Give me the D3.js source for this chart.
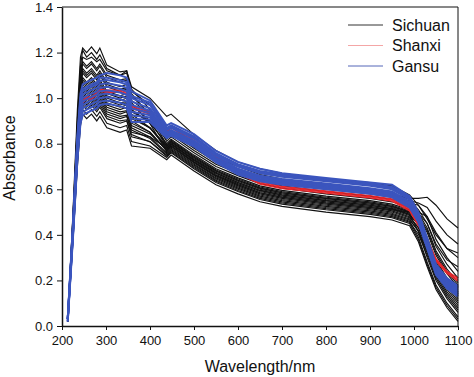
<!DOCTYPE html>
<html>
<head>
<meta charset="utf-8">
<script src="https://cdn.jsdelivr.net/npm/d3@7"></script>
<style>
body{margin:0;background:#fff;}
svg{display:block;font-family:"Liberation Sans",Arial,sans-serif;}
</style>
</head>
<body>
<div id="chart"></div>
<script>
(function(){

const width = 474;
const height = 377;

// wavelength grid shared by every spectrum (nm)
const wavelengths = [213,225,235,242,247,256,267,279,286,302,332,347,358,400,438,448,500,550,600,650,700,800,900,950,990,1010,1030,1050,1075,1100];

// absorbance
const sichuan = [
[0.02,0.50,0.95,1.18,1.22,1.20,1.225,1.195,1.22,1.145,1.115,1.12,1.05,1.00,0.92,0.93,0.84,0.77,0.72,0.69,0.67,0.645,0.63,0.615,0.575,0.53,0.47,0.40,0.34,0.32],
[0.03,0.49,0.91,1.14,1.21,1.18,1.20,1.17,1.19,1.13,1.10,1.12,1.03,0.97,0.86,0.88,0.80,0.74,0.70,0.665,0.645,0.62,0.60,0.585,0.555,0.51,0.45,0.36,0.29,0.26],
[0.03,0.48,0.89,1.11,1.18,1.17,1.18,1.16,1.17,1.12,1.10,1.11,1.04,0.95,0.83,0.85,0.78,0.72,0.68,0.645,0.625,0.60,0.58,0.565,0.54,0.53,0.48,0.38,0.30,0.24],
[0.02,0.47,0.87,1.09,1.15,1.13,1.15,1.12,1.14,1.09,1.07,1.08,1.01,0.93,0.81,0.83,0.76,0.70,0.66,0.625,0.605,0.58,0.56,0.545,0.52,0.495,0.43,0.33,0.25,0.19],
[0.03,0.46,0.85,1.07,1.13,1.11,1.13,1.10,1.12,1.07,1.05,1.06,0.99,0.93,0.84,0.86,0.79,0.73,0.69,0.655,0.635,0.61,0.59,0.575,0.56,0.56,0.565,0.53,0.47,0.43],
[0.04,0.45,0.84,1.05,1.11,1.09,1.11,1.08,1.10,1.05,1.03,1.04,0.97,0.90,0.79,0.81,0.74,0.68,0.64,0.605,0.585,0.56,0.54,0.525,0.50,0.46,0.38,0.28,0.20,0.14],
[0.03,0.44,0.82,1.03,1.09,1.07,1.09,1.06,1.08,1.03,1.01,1.02,0.95,0.89,0.80,0.82,0.75,0.69,0.65,0.615,0.595,0.57,0.55,0.535,0.51,0.48,0.41,0.31,0.23,0.17],
[0.03,0.43,0.81,1.01,1.07,1.05,1.07,1.04,1.06,1.01,0.99,1.00,0.93,0.87,0.78,0.80,0.73,0.67,0.63,0.595,0.575,0.55,0.53,0.515,0.49,0.445,0.36,0.26,0.18,0.12],
[0.03,0.43,0.79,0.99,1.05,1.03,1.05,1.02,1.04,0.99,0.97,0.98,0.91,0.87,0.79,0.81,0.74,0.68,0.64,0.605,0.585,0.56,0.54,0.525,0.50,0.495,0.45,0.35,0.27,0.21],
[0.02,0.42,0.78,0.97,1.03,1.01,1.03,1.00,1.02,0.97,0.95,0.96,0.89,0.85,0.77,0.79,0.72,0.66,0.62,0.585,0.565,0.54,0.52,0.505,0.48,0.43,0.34,0.24,0.16,0.10],
[0.03,0.41,0.76,0.95,1.01,0.99,1.01,0.98,1.00,0.95,0.93,0.94,0.87,0.83,0.76,0.78,0.71,0.65,0.61,0.575,0.555,0.53,0.51,0.495,0.47,0.415,0.32,0.22,0.14,0.08],
[0.02,0.40,0.75,0.93,0.99,0.97,0.99,0.96,0.98,0.93,0.91,0.92,0.85,0.83,0.78,0.80,0.73,0.67,0.63,0.595,0.575,0.55,0.53,0.515,0.49,0.415,0.30,0.20,0.12,0.06],
[0.03,0.39,0.73,0.91,0.97,0.95,0.97,0.94,0.96,0.91,0.89,0.90,0.83,0.81,0.75,0.77,0.70,0.64,0.60,0.565,0.545,0.52,0.50,0.485,0.46,0.39,0.28,0.18,0.10,0.04],
[0.02,0.39,0.72,0.90,0.95,0.93,0.95,0.92,0.94,0.89,0.87,0.88,0.81,0.79,0.74,0.76,0.69,0.63,0.59,0.555,0.535,0.51,0.49,0.475,0.45,0.38,0.27,0.17,0.09,0.03],
[0.02,0.38,0.70,0.88,0.93,0.91,0.93,0.90,0.92,0.87,0.85,0.86,0.79,0.78,0.73,0.75,0.68,0.62,0.58,0.545,0.525,0.50,0.48,0.465,0.44,0.37,0.26,0.16,0.08,0.02],
[0.03,0.44,0.82,1.02,1.08,1.06,1.08,1.05,1.07,1.02,1.00,1.01,0.94,0.90,0.82,0.84,0.77,0.71,0.67,0.635,0.615,0.59,0.57,0.555,0.55,0.54,0.52,0.46,0.40,0.36],
[0.03,0.42,0.79,0.98,1.04,1.02,1.04,1.01,1.03,0.98,0.96,0.97,0.90,0.85,0.77,0.79,0.72,0.66,0.62,0.585,0.565,0.54,0.52,0.51,0.50,0.50,0.48,0.41,0.34,0.30],
[0.03,0.43,0.80,1.00,1.06,1.04,1.06,1.03,1.05,1.00,0.98,0.985,0.92,0.868,0.785,0.805,0.735,0.675,0.635,0.60,0.58,0.555,0.535,0.52,0.495,0.463,0.39,0.29,0.21,0.15],
[0.02,0.414,0.77,0.962,1.02,1.00,1.02,0.99,1.01,0.96,0.94,0.945,0.88,0.843,0.775,0.795,0.725,0.665,0.625,0.59,0.57,0.545,0.525,0.51,0.485,0.448,0.37,0.27,0.19,0.13],
[0.03,0.454,0.845,1.057,1.12,1.10,1.12,1.09,1.11,1.06,1.04,1.045,0.98,0.888,0.765,0.785,0.715,0.655,0.615,0.58,0.56,0.535,0.515,0.50,0.475,0.433,0.35,0.25,0.17,0.11],
[0.03,0.406,0.755,0.943,1.00,0.98,1.00,0.97,0.99,0.94,0.92,0.925,0.86,0.823,0.755,0.775,0.705,0.645,0.605,0.57,0.55,0.525,0.505,0.49,0.465,0.418,0.33,0.23,0.15,0.09],
[0.03,0.47,0.875,1.095,1.16,1.14,1.16,1.13,1.15,1.10,1.08,1.085,1.02,0.923,0.795,0.815,0.745,0.685,0.645,0.61,0.59,0.565,0.545,0.53,0.505,0.483,0.42,0.32,0.24,0.18],
[0.02,0.398,0.74,0.924,0.98,0.96,0.98,0.95,0.97,0.92,0.90,0.905,0.84,0.808,0.745,0.765,0.695,0.635,0.595,0.56,0.54,0.515,0.495,0.48,0.455,0.403,0.31,0.21,0.13,0.07]
];

const gansu = [
[0.03,0.45,0.83,1.02,1.06,1.07,1.08,1.09,1.10,1.11,1.10,1.09,1.03,0.99,0.88,0.89,0.842,0.768,0.72,0.69,0.67,0.65,0.63,0.62,0.57,0.50,0.385,0.27,0.21,0.175],
[0.03,0.44,0.82,1.00,1.04,1.05,1.06,1.07,1.09,1.09,1.08,1.07,1.01,0.98,0.87,0.88,0.832,0.758,0.71,0.68,0.665,0.645,0.625,0.61,0.565,0.495,0.38,0.265,0.205,0.17],
[0.02,0.44,0.81,0.99,1.03,1.04,1.05,1.06,1.075,1.08,1.07,1.06,1.00,0.97,0.865,0.875,0.827,0.758,0.705,0.675,0.66,0.64,0.62,0.605,0.56,0.495,0.375,0.26,0.20,0.165],
[0.03,0.43,0.80,0.97,1.015,1.025,1.035,1.045,1.06,1.065,1.055,1.045,0.985,0.955,0.86,0.87,0.822,0.753,0.70,0.67,0.655,0.635,0.615,0.60,0.555,0.485,0.37,0.255,0.195,0.16],
[0.03,0.42,0.79,0.96,1.00,1.01,1.02,1.03,1.045,1.05,1.04,1.03,0.97,0.945,0.85,0.86,0.812,0.748,0.69,0.66,0.645,0.625,0.605,0.59,0.545,0.48,0.365,0.25,0.19,0.155],
[0.03,0.42,0.775,0.945,0.985,0.995,1.005,1.015,1.03,1.035,1.025,1.015,0.955,0.935,0.845,0.855,0.807,0.738,0.685,0.655,0.64,0.62,0.60,0.585,0.54,0.475,0.36,0.245,0.185,0.15],
[0.02,0.41,0.765,0.93,0.97,0.98,0.99,1.00,1.015,1.02,1.01,1.00,0.94,0.925,0.84,0.85,0.802,0.733,0.68,0.65,0.635,0.615,0.595,0.58,0.535,0.47,0.355,0.24,0.18,0.145],
[0.03,0.405,0.755,0.915,0.955,0.965,0.975,0.985,1.00,1.005,0.995,0.985,0.925,0.915,0.835,0.845,0.797,0.728,0.675,0.645,0.63,0.61,0.59,0.575,0.53,0.465,0.35,0.235,0.175,0.14],
[0.03,0.40,0.74,0.90,0.94,0.95,0.96,0.97,0.985,0.99,0.98,0.97,0.91,0.905,0.83,0.84,0.792,0.723,0.67,0.64,0.625,0.605,0.585,0.57,0.525,0.46,0.345,0.23,0.17,0.135],
[0.02,0.39,0.73,0.89,0.925,0.935,0.945,0.955,0.97,0.975,0.965,0.955,0.895,0.895,0.825,0.835,0.787,0.718,0.665,0.635,0.62,0.60,0.58,0.565,0.52,0.455,0.34,0.225,0.165,0.13]
];

const shanxi = [
[0.03,0.43,0.80,0.965,0.99,1.005,1.005,1.025,1.04,1.035,1.035,1.025,0.965,0.94,0.86,0.88,0.815,0.745,0.68,0.633,0.613,0.593,0.572,0.558,0.515,0.45,0.38,0.295,0.24,0.21],
[0.03,0.42,0.79,0.96,0.985,1.00,1.00,1.02,1.035,1.03,1.03,1.02,0.96,0.935,0.855,0.875,0.81,0.74,0.675,0.628,0.608,0.588,0.567,0.553,0.51,0.445,0.375,0.29,0.235,0.203],
[0.03,0.41,0.78,0.955,0.98,0.995,0.995,1.015,1.03,1.025,1.025,1.015,0.955,0.93,0.85,0.87,0.805,0.735,0.67,0.623,0.603,0.583,0.562,0.548,0.505,0.44,0.37,0.285,0.23,0.196]
];

const xTicks = [200,300,400,500,600,700,800,900,1000,1100];
const yTicks = [0.0,0.2,0.4,0.6,0.8,1.0,1.2,1.4];
const legendNames = ["Sichuan","Shanxi","Gansu"];
const legendColors = ["#333333","#f4a6a6","#5566b8"];

const svg = d3.select("#chart")
.append("svg")
.attr("width",width)
.attr("height",height);

const x = d3.scaleLinear().domain([200,1100]).range([62,458]);
const y = d3.scaleLinear().domain([0,1.4]).range([326,7]);

const line = d3.line()
.x((d,i)=>x(wavelengths[i]))
.y(d=>y(d));

const plot = svg.append("g");

// spectra: black first, red, then blue over them
plot.selectAll("path.sichuan")
.data(sichuan)
.enter()
.append("path")
.attr("class","sichuan")
.attr("d",line)
.attr("fill","none")
.attr("stroke","#111")
.attr("stroke-width",1.15);

plot.selectAll("path.shanxi")
.data(shanxi)
.enter()
.append("path")
.attr("class","shanxi")
.attr("d",line)
.attr("fill","none")
.attr("stroke","#e8262b")
.attr("stroke-width",1.3);

plot.selectAll("path.gansu")
.data(gansu)
.enter()
.append("path")
.attr("class","gansu")
.attr("d",line)
.attr("fill","none")
.attr("stroke","#3b55be")
.attr("stroke-width",2);

// -------------------
// AXES
// -------------------

const xAxis = svg.append("g")
.attr("transform","translate(0,326)")
.call(d3.axisBottom(x).tickValues(xTicks).tickFormat(d3.format("d")).tickSize(4).tickPadding(6).tickSizeOuter(0));

const yAxis = svg.append("g")
.attr("transform","translate(62,0)")
.call(d3.axisLeft(y).tickValues(yTicks).tickFormat(d3.format(".1f")).tickSize(5).tickPadding(4).tickSizeOuter(0));

[xAxis,yAxis].forEach(a=>{
a.selectAll("text").attr("font-size","13px").attr("font-family","'Liberation Sans',Arial,sans-serif").attr("fill","#111");
a.selectAll("line").attr("stroke","#111");
a.select(".domain").attr("stroke","#111").attr("stroke-width",1.5);
});

// top and right border
svg.append("path")
.attr("d",`M${x(200)},${y(1.4)}H${x(1100)}V${y(0)}`)
.attr("fill","none")
.attr("stroke","#111")
.attr("stroke-width",1);

svg.append("text")
.attr("x",260)
.attr("y",372)
.attr("text-anchor","middle")
.attr("font-size","16px")
.attr("fill","#111")
.text("Wavelength/nm");

svg.append("text")
.attr("transform","translate(15,158) rotate(-90)")
.attr("text-anchor","middle")
.attr("font-size","16px")
.attr("fill","#111")
.text("Absorbance");

// -------------------
// LEGEND
// -------------------

const legend = svg.append("g")
.attr("transform","translate(348,25)");

legend.selectAll("line")
.data(legendNames)
.enter()
.append("line")
.attr("x1",0)
.attr("x2",35)
.attr("y1",(d,i)=>i*20.5)
.attr("y2",(d,i)=>i*20.5)
.attr("stroke",(d,i)=>legendColors[i])
.attr("stroke-width",1);

legend.selectAll("text")
.data(legendNames)
.enter()
.append("text")
.attr("x",44)
.attr("y",(d,i)=>i*20.5 + 5.5)
.attr("font-size","16px")
.attr("fill","#111")
.text(d=>d);

})();
</script>
</body>
</html>
